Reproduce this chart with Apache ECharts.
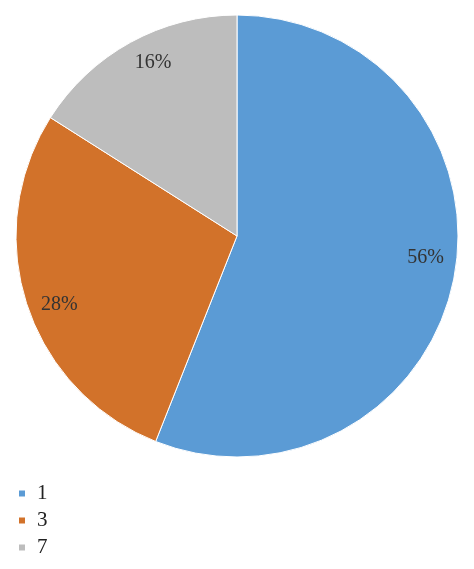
<!DOCTYPE html>
<html>
<head>
<meta charset="utf-8">
<style>html,body{margin:0;padding:0;background:#fff;}#c{width:474px;height:569px;}</style>
<script src="https://cdn.jsdelivr.net/npm/echarts@6/dist/echarts.min.js"></script>
</head>
<body>
<div id="c"></div>
<script>
const categories = ['1', '3', '7'];
const values = [56, 28, 16];
const colors = ['#5B9BD5', '#D2722A', '#BDBDBD'];

const chart = echarts.init(document.getElementById('c'), null, {renderer: 'canvas'});
const data = categories.map((c, i) => ({name: c, value: values[i], itemStyle: {color: colors[i]}}));
const labelOffsets = [[-1, -14], [6, 9], [9, -4]];
const labelData = categories.map((c, i) => ({
  name: c, value: values[i],
  label: {offset: labelOffsets[i]}
}));
chart.setOption({
  animation: false,
  legend: {
    orient: 'vertical', left: 17, top: 483, padding: 0,
    icon: 'rect', itemWidth: 8, itemHeight: 8, itemGap: 6,
    textStyle: {fontFamily: 'Liberation Serif', fontSize: 21, color: '#222', lineHeight: 21, padding: [0, 0, 0, 6]},
    data: categories
  },
  series: [
    {
      type: 'pie', center: [237, 236], radius: [0, 221],
      startAngle: 90, clockwise: true,
      label: {show: false}, labelLine: {show: false},
      itemStyle: {borderColor: '#fff', borderWidth: 1},
      emphasis: {disabled: true},
      data: data
    },
    {
      type: 'pie', center: [237, 236], radius: [159, 221],
      startAngle: 90, clockwise: true, silent: true,
      legendHoverLink: false,
      itemStyle: {color: 'rgba(0,0,0,0)'},
      label: {show: true, position: 'inside', formatter: '{c}%', fontFamily: 'Liberation Serif', fontSize: 20, color: '#333'},
      labelLine: {show: false},
      emphasis: {disabled: true},
      data: labelData
    }
  ]
});
</script>
</body>
</html>
